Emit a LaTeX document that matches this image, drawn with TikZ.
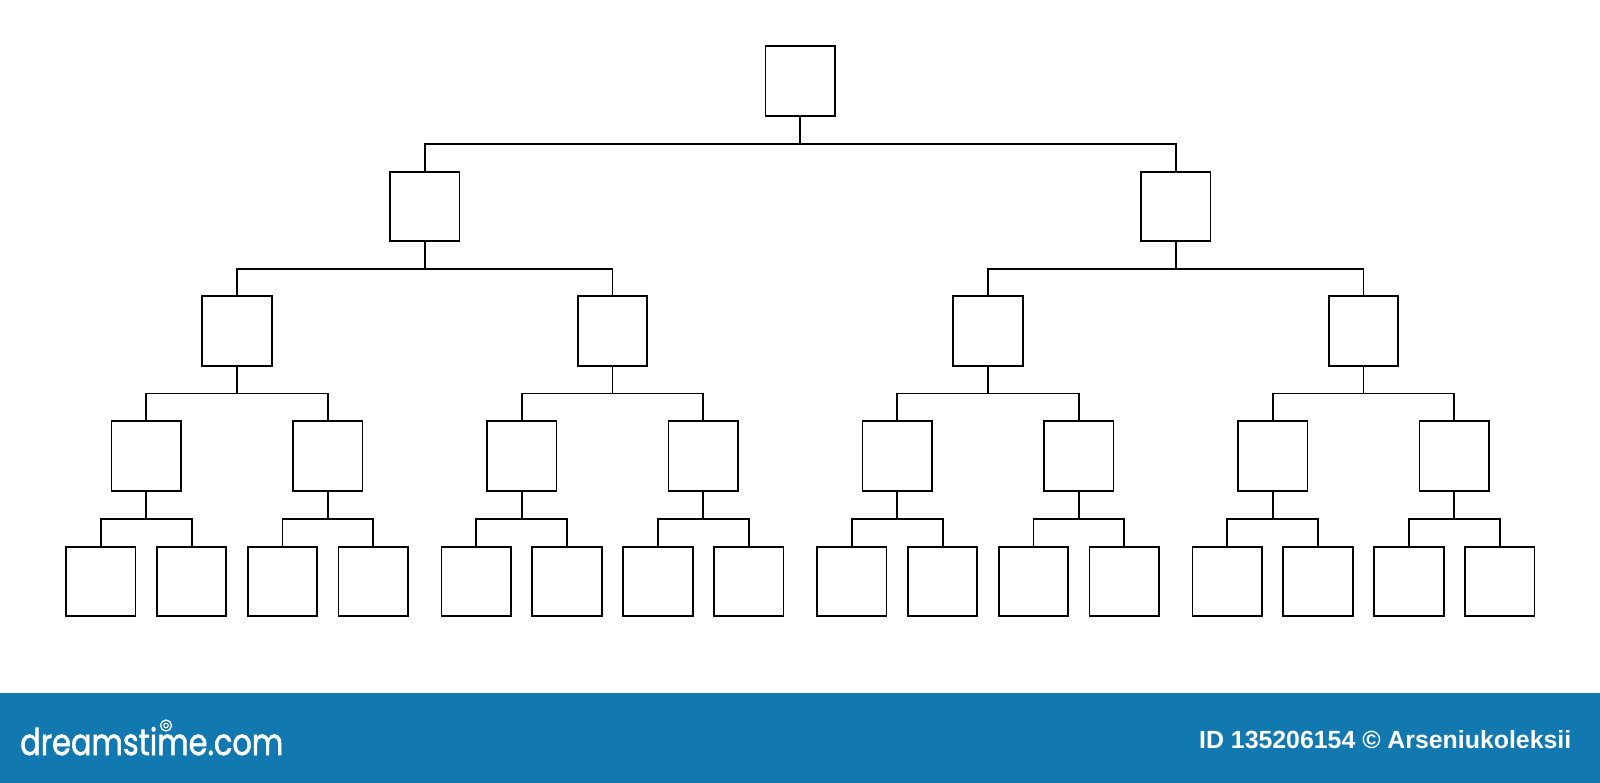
\documentclass[tikz,border=0pt]{standalone}
\usepackage{fontspec}
\newfontfamily\logofont[FakeBold=1.6]{Poppins}
\newfontfamily\idfont{Liberation Sans}
\usetikzlibrary{calc}
\definecolor{banner}{RGB}{17,121,176}
\tikzset{
  box/.style={draw=black, line width=1.8pt, minimum size=69.5pt, inner sep=0pt},
  conn/.style={draw=black, line width=1.8pt,
    to path={(\tikztostart) |- ($(\tikztostart)!0.5!(\tikztotarget)$) -| (\tikztotarget)}}
}
\begin{document}
\begin{tikzpicture}[x=1pt,y=-1pt]
\useasboundingbox (0,0) rectangle (1600,783);
\fill[white] (0,0) rectangle (1600,783);
% nodes
\node[box] (r) at (800.25,81) {};
\foreach \i in {0,1}{
  \pgfmathsetmacro\xx{424.75+751*\i}
  \node[box] (a\i) at (\xx,206.5) {};
}
\foreach \i in {0,...,3}{
  \pgfmathsetmacro\xx{237+375.5*\i}
  \node[box] (b\i) at (\xx,331) {};
}
\foreach \i in {0,...,7}{
  \pgfmathsetmacro\xx{146.2+375.5*int(\i/2)+181.6*mod(\i,2)}
  \node[box] (c\i) at (\xx,456) {};
}
\foreach \i in {0,...,15}{
  \pgfmathsetmacro\xx{100.8+375.5*int(\i/4)+90.8*mod(\i,4)}
  \node[box] (d\i) at (\xx,581.5) {};
}
% connectors
\foreach \i in {0,1}{ \draw[conn] (r.south) to (a\i.north); }
\foreach \i in {0,...,3}{
  \pgfmathtruncatemacro\p{int(\i/2)}
  \draw[conn] (a\p.south) to (b\i.north);
}
\foreach \i in {0,...,7}{
  \pgfmathtruncatemacro\p{int(\i/2)}
  \draw[conn] (b\p.south) to (c\i.north);
}
\foreach \i in {0,...,15}{
  \pgfmathtruncatemacro\p{int(\i/2)}
  \draw[conn] (c\p.south) to (d\i.north);
}
% banner
\fill[banner] (0,692.7) rectangle (1600,783);
\node[anchor=base west, inner sep=0pt, text=white] (logo) at (20,755)
  {\resizebox{263pt}{28pt}{\logofont dreamstime.com}};
\draw[white, line width=1.3pt] (166,725.5) circle (5.5pt);
\draw[white, line width=1.1pt] (166,725.5) circle (2.3pt);
\node[anchor=base west, inner sep=0pt, text=white] (credit) at (1199,748.5)
  {\resizebox{372pt}{!}{\idfont\bfseries ID 135206154 \textcopyright{} Arseniukoleksii}};
\end{tikzpicture}
\end{document}
